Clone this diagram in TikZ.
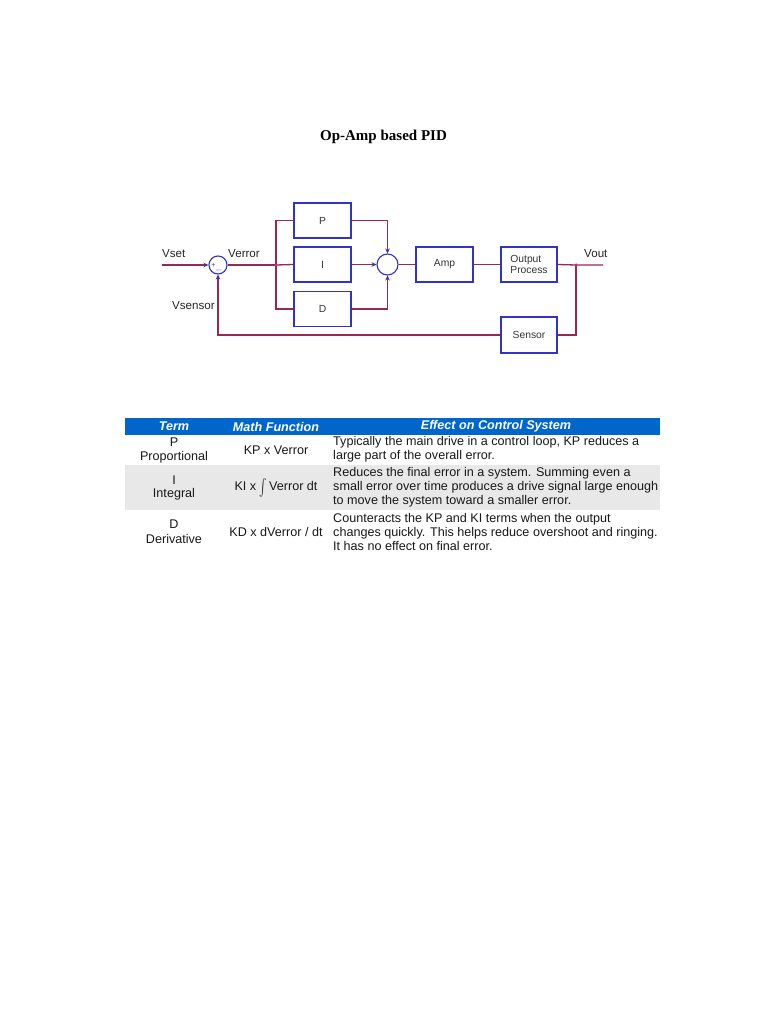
\documentclass[tikz,border=0pt]{standalone}
\usepackage{fontspec}
\usepackage{graphicx}
\setmainfont{Liberation Sans}
\newfontfamily\serifT{Liberation Serif}
\usetikzlibrary{arrows.meta}
\definecolor{wirec}{RGB}{150,40,85}
\definecolor{boxc}{RGB}{50,50,200}
\definecolor{hdr}{RGB}{0,102,204}
\definecolor{rowg}{RGB}{232,232,232}
\tikzset{
  blk/.style={draw=boxc, line width=1.2pt, minimum width=57pt, minimum height=35pt, inner sep=0pt, font=\fontsize{10.3}{11.5}\selectfont, text=black!80},
  sumc/.style={draw=boxc, line width=1.1pt, circle, inner sep=0pt},
  wire/.style={draw=wirec, line width=1.3pt},
  tipa/.style={-{Stealth[length=5pt,width=4.5pt,color=boxc]}},
  lbl/.style={font=\fontsize{11.6}{13}\selectfont, text=black!85, inner sep=0pt},
  tx/.style={font=\fontsize{12.6}{14}\selectfont, inner sep=0pt, text=black!90},
  th/.style={font=\fontsize{12.6}{14}\selectfont\bfseries\itshape, text=white, inner sep=0pt},
  jdot/.style={circle, fill=magenta!80!black, inner sep=0pt, minimum size=3.5pt}
}
\begin{document}
\begin{tikzpicture}[x=1pt,y=-1pt]
\useasboundingbox[fill=white] (0,0) rectangle (768,1024);
% title
\node[font=\serifT\fontsize{15}{17}\selectfont\bfseries] (title) at (383.5,137) {Op-Amp based PID};
% blocks
\node[blk] (P) at (322.5,220.5) {P};
\node[blk] (I) at (322.5,264.5) {I};
\node[blk] (D) at (322.5,309) {D};
\node[blk] (Amp) at (444.5,264.5) {Amp};
\node[blk, minimum width=56pt, align=left] (Out) at (529,264.5) {Output\\Process};
\node[blk, minimum width=56pt, minimum height=36pt] (Sen) at (529,335) {Sensor};
\node[sumc, minimum size=18pt] (s1) at (218,265) {};
\node[sumc, minimum size=21pt] (s2) at (387.5,264.5) {};
\node[font=\fontsize{7}{7}\selectfont, text=boxc, inner sep=0pt] (plus) at (213.5,265) {+};
\node[font=\fontsize{8}{8}\selectfont, text=boxc, inner sep=0pt] (minus) at (218.5,270) {$-$};
\coordinate (vset) at (162,265);
\coordinate (j1) at (276,265);
\coordinate (j2) at (576,265);
\coordinate (vout) at (603,265);
% wires
\draw[wire,tipa] (vset) -- (s1.west);
\draw[wire] (s1.east) -- (j1);
\draw[wire] (j1) |- (P.west);
\draw[wire] (j1) |- (D.west);
\draw[wire] (j1) -- (I.west);
\draw[wire,tipa] (P.east) -| (s2.north);
\draw[wire,tipa] (D.east) -| (s2.south);
\draw[wire,tipa] (I.east) -- (s2.west);
\draw[wire] (s2.east) -- (Amp.west);
\draw[wire] (Amp.east) -- (Out.west);
\draw[wire] (Out.east) -- (j2) -- (vout);
\draw[wire] (j2) |- (Sen.east);
\draw[wire,tipa] (Sen.west) -| (s1.south);
\node[jdot] (d1) at (j1) {};
\node[jdot] (d2) at (j2) {};
% labels
\node[lbl, anchor=west] (lvset) at (162,253.5) {Vset};
\node[lbl, anchor=west] (lverr) at (228,253.5) {Verror};
\node[lbl, anchor=west] (lvsen) at (172,306) {Vsensor};
\node[lbl, anchor=west] (lvout) at (584,253.5) {Vout};
% table
\fill[hdr] (125,418) rectangle (660,435);
\fill[rowg] (125,465) rectangle (660,510);
\node[th] (h1) at (174,426.5) {Term};
\node[th] (h2) at (276,426.5) {Math Function};
\node[th] (h3) at (496,426.5) {Effect on Control System};
% row 1
\node[tx] (r1a) at (174,442.5) {P};
\node[tx] (r1b) at (174,457) {Proportional};
\node[tx] (r1c) at (276,450) {KP x Verror};
\node[tx, anchor=west, align=left] (r1d) at (333,449.5) {Typically the main drive in a control loop, KP reduces a\\large part of the overall error.};
% row 2
\node[tx] (r2a) at (174,480) {I};
\node[tx] (r2b) at (174,494.5) {Integral};
\node[tx] (r2c) at (276,488) {KI x \raisebox{-2.5pt}{\scalebox{1.1}[1.7]{$\int$}}\,Verror dt};
\node[tx, anchor=west, align=left] (r2d) at (333,487.5) {Reduces the final error in a system. Summing even a\\small error over time produces a drive signal large enough\\to move the system toward a smaller error.};
% row 3
\node[tx] (r3a) at (174,524) {D};
\node[tx] (r3b) at (174,539) {Derivative};
\node[tx] (r3c) at (276,532) {KD x dVerror / dt};
\node[tx, anchor=west, align=left] (r3d) at (333,532) {Counteracts the KP and KI terms when the output\\changes quickly. This helps reduce overshoot and ringing.\\It has no effect on final error.};
\end{tikzpicture}
\end{document}
